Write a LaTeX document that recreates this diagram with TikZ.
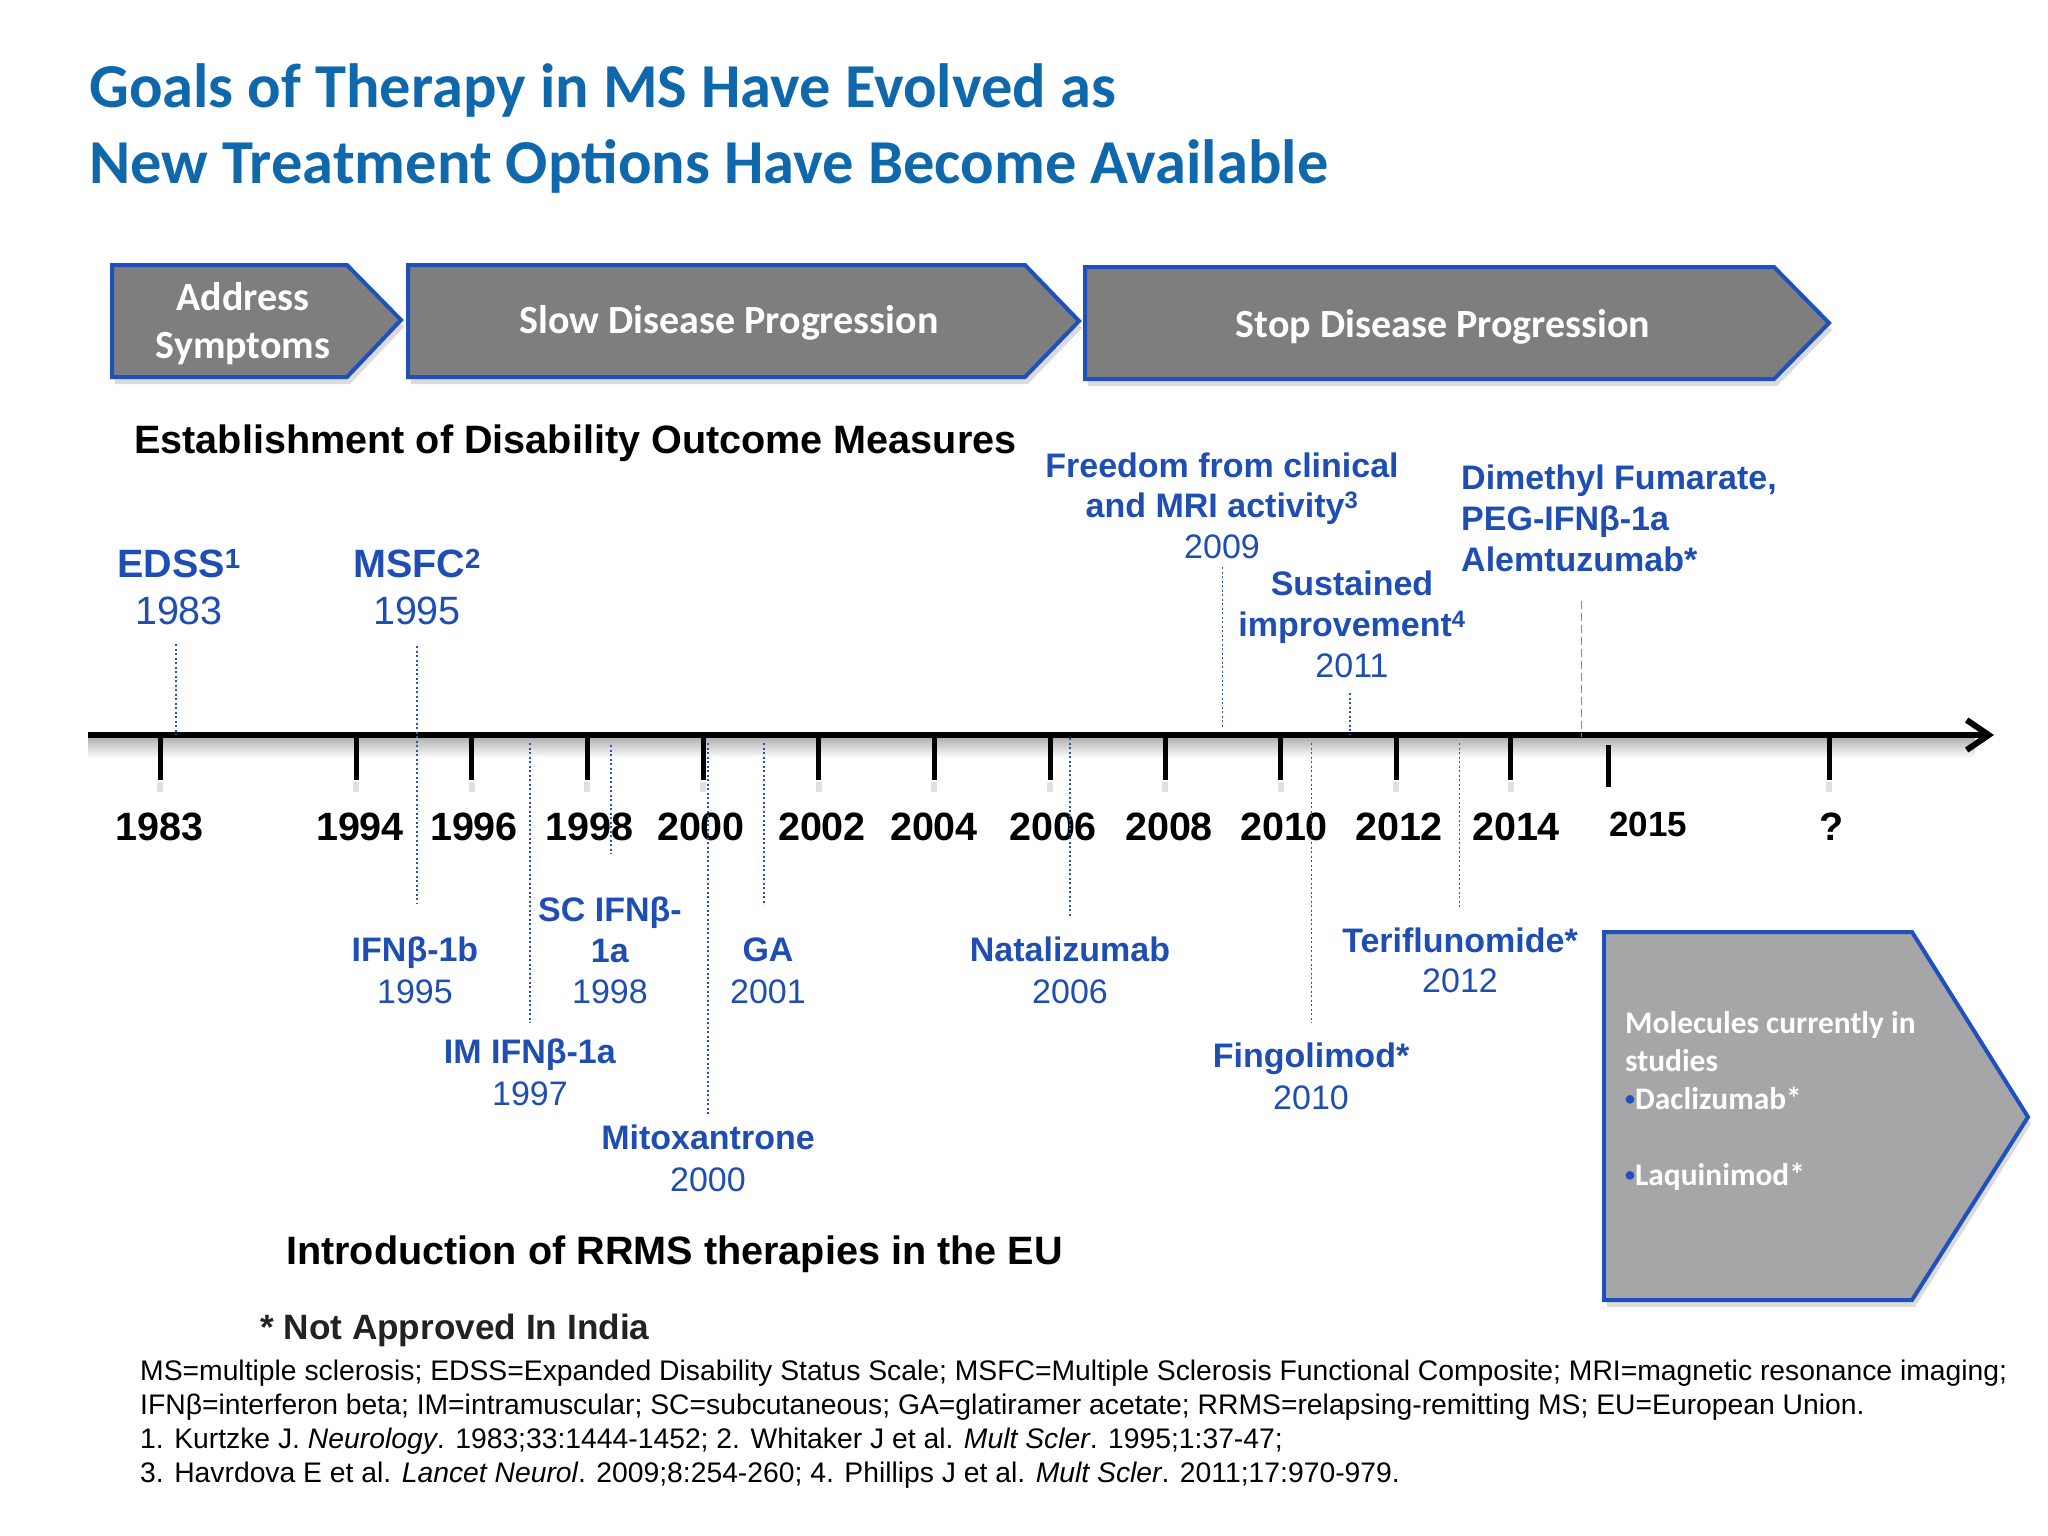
\documentclass[tikz,border=0pt]{standalone}
\usepackage{fontspec}
\setmainfont{Liberation Sans}
\newfontfamily\calib{Carlito}
\usetikzlibrary{arrows.meta,shadows}
\definecolor{titleblue}{RGB}{16,104,172}
\definecolor{lblue}{RGB}{30,78,180}
\definecolor{bord}{RGB}{30,80,190}
\definecolor{dgray}{RGB}{127,126,126}
\definecolor{lgray}{RGB}{166,166,168}
\definecolor{tealc}{RGB}{60,170,165}
\definecolor{dotblue}{RGB}{40,85,175}
\definecolor{nearblack}{RGB}{34,34,34}
\newcommand{\myfs}[2]{\fontsize{#1}{#2}\selectfont}
\newcommand{\mybullet}{{\color{bord}\raisebox{4pt}{\fontsize{20}{20}\selectfont •}}}
\begin{document}
\begin{tikzpicture}[x=1pt,y=-1pt,
 chev/.style={fill=dgray, draw=bord, line width=4pt, line join=miter, drop shadow={opacity=0.28, shadow xshift=3pt, shadow yshift=-7pt}},
 chevtxt/.style={text=white, font=\calib\bfseries\myfs{40}{48}, align=center, inner sep=0pt},
 lab/.style={text=lblue, font=\myfs{34}{42}, align=center, inner sep=0pt},
 biglab/.style={text=lblue, font=\myfs{39.5}{47}, align=center, inner sep=0pt},
 yearlab/.style={font=\bfseries\myfs{39.5}{44}, inner sep=0pt},
 axtick/.style={line width=5pt},
 tickshadow/.style={line width=6pt, draw=black!12},
 dotline/.style={draw=dotblue, line width=1.6pt, dash pattern=on 2pt off 2.5pt},
 tealline/.style={draw=tealc, line width=1.6pt, dash pattern=on 8pt off 4pt},
 head/.style={font=\bfseries\myfs{39.6}{44}, inner sep=0pt, anchor=west},
]
% canvas
\fill[white] (0,0) rectangle (2048,1536);
\useasboundingbox (0,0) rectangle (2048,1536);

% title
\node[anchor=base west, inner sep=0pt, text=titleblue, font=\calib\bfseries\myfs{62.5}{70}] (title1) at (89,108) {Goals of Therapy in MS Have Evolved as};
\node[anchor=base west, inner sep=0pt, text=titleblue, font=\calib\bfseries\myfs{62.5}{70}] (title2) at (89,183) {New Treatment Options Have Become Available};

% chevrons
\filldraw[chev] (112,265) -- (347,265) -- (401,320) -- (347,377) -- (112,377) -- cycle;
\filldraw[chev] (408,265) -- (1025,265) -- (1079,321) -- (1025,377) -- (408,377) -- cycle;
\filldraw[chev] (1085,267) -- (1774,267) -- (1829,323) -- (1774,379) -- (1085,379) -- cycle;
\node[chevtxt] (c1) at (243,324) {Address\\Symptoms};
\node[chevtxt] (c2) at (729,323) {Slow Disease Progression};
\node[chevtxt] (c3) at (1443,327) {Stop Disease Progression};

% headings
\node[head] (h1) at (134,443) {Establishment of Disability Outcome Measures};
\node[head] (h2) at (286,1254) {Introduction of RRMS therapies in the EU};
\node[head, text=nearblack, font=\bfseries\myfs{35.2}{40}] (h3) at (260,1330) {* Not Approved In India};

% axis shadow and axis
\shade[top color=black!30, bottom color=white] (88,738) rectangle (1975,758);
\coordinate (ax0) at (88,735);
\coordinate (ax1) at (1994,735);
\draw[line width=6pt, -{Straight Barb[length=22pt, width=30pt, line width=6pt]}] (ax0) -- (ax1);

% ticks and year labels
\foreach \tx/\lx/\lab/\nm in {160/159.5/1983/a, 356/360/1994/b, 471.5/474/1996/c, 587/589.7/1998/d, 703/701/2000/e, 818.5/822/2002/f, 934/934/2004/g, 1050/1053/2006/h, 1165/1169/2008/i, 1280.5/1284/2010/j, 1396/1399/2012/k, 1510.7/1516/2014/l, 1829/1832/?/n}{
  \coordinate (ts\nm) at (\tx,735);
  \coordinate (te\nm) at (\tx,780);
  \draw[tickshadow] (\tx,782) -- (\tx,792);
  \draw[axtick] (ts\nm) -- (te\nm);
  \node[yearlab] (yl\nm) at (\lx,827) {\lab};
}
\coordinate (tsm) at (1608.7,745);
\coordinate (tem) at (1608.7,787);
\draw[axtick] (tsm) -- (tem);
\node[font=\bfseries\myfs{35}{40}, inner sep=0pt] (ylm) at (1648,824) {2015};

% labels above axis
\node[biglab] (edss) at (179,587) {\textbf{EDSS\textsuperscript{1}}\\1983};
\node[biglab] (msfc) at (417,587) {\textbf{MSFC\textsuperscript{2}}\\1995};
\node[lab, font=\myfs{34}{40.5}] (free) at (1222,505.5) {\textbf{Freedom from clinical}\\\textbf{and MRI activity\textsuperscript{3}}\\2009};
\node[lab, font=\myfs{34}{41}] (sust) at (1352,624) {\textbf{Sustained}\\\textbf{improvement\textsuperscript{4}}\\2011};
\node[lab, font=\bfseries\myfs{34}{41}, align=left, anchor=west] (dmf) at (1461,518) {Dimethyl Fumarate,\\PEG-IFNβ-1a\\Alemtuzumab*};

% labels below axis
\node[lab] (ifnb) at (415,970) {\textbf{IFNβ-1b}\\1995};
\node[lab, font=\myfs{34}{41}] (sc) at (610,950) {\textbf{SC IFNβ-}\\\textbf{1a}\\1998};
\node[lab] (im) at (530,1072) {\textbf{IM IFNβ-1a}\\1997};
\node[lab] (ga) at (768,971) {\textbf{GA}\\2001};
\node[lab] (mito) at (708,1158) {\textbf{Mitoxantrone}\\2000};
\node[lab] (nata) at (1070,970) {\textbf{Natalizumab}\\2006};
\node[lab] (fing) at (1311,1076) {\textbf{Fingolimod*}\\2010};
\node[lab, font=\myfs{34}{40}] (teri) at (1460,960) {\textbf{Teriflunomide*}\\2012};

% connectors (dotted)
\coordinate (pEa) at (176,644);   \coordinate (pEb) at (176,735);
\coordinate (pMa) at (417,646);   \coordinate (pMb) at (417,903);
\coordinate (pFa) at (1222.6,567); \coordinate (pFb) at (1222.6,728);
\coordinate (pSa) at (1350,693);  \coordinate (pSb) at (1350,735);
\coordinate (pDa) at (1581.6,601); \coordinate (pDb) at (1581.6,737);
\coordinate (pIa) at (530,743);   \coordinate (pIb) at (530,1023);
\coordinate (pCa) at (611,745);   \coordinate (pCb) at (611,854);
\coordinate (pXa) at (708,743);   \coordinate (pXb) at (708,1114);
\coordinate (pGa) at (764,743);   \coordinate (pGb) at (764,905);
\coordinate (pNa) at (1070,738);  \coordinate (pNb) at (1070,917);
\coordinate (pLa) at (1311.6,743); \coordinate (pLb) at (1311.6,1023);
\coordinate (pTa) at (1459.5,743); \coordinate (pTb) at (1459.5,907);
\draw[dotline] (pEa) -- (pEb);
\draw[dotline] (pMa) -- (pMb);
\draw[dotline] (pFa) -- (pFb);
\draw[dotline] (pSa) -- (pSb);
\draw[tealline] (pDa) -- (pDb);
\draw[dotline] (pIa) -- (pIb);
\draw[dotline] (pCa) -- (pCb);
\draw[dotline] (pXa) -- (pXb);
\draw[dotline] (pGa) -- (pGb);
\draw[dotline] (pNa) -- (pNb);
\draw[dotline] (pLa) -- (pLb);
\draw[dotline] (pTa) -- (pTb);

% molecules box
\filldraw[chev, fill=lgray] (1604,932) -- (1912,932) -- (2028,1117) -- (1912,1300) -- (1604,1300) -- cycle;
\node[anchor=north west, inner sep=0pt, align=left, text=white, font=\calib\bfseries\myfs{31.4}{38}] (mol) at (1625,1011) {Molecules currently in\\studies\\\mybullet Daclizumab*\\[38pt]\mybullet Laquinimod*};

% footnotes
\node[anchor=west, inner sep=0pt, align=left, font=\myfs{28.3}{34}] (foot) at (140,1424) {MS=multiple sclerosis; EDSS=Expanded Disability Status Scale; MSFC=Multiple Sclerosis Functional Composite; MRI=magnetic resonance imaging;\\IFNβ=interferon beta; IM=intramuscular; SC=subcutaneous; GA=glatiramer acetate; RRMS=relapsing-remitting MS; EU=European Union.\\1. Kurtzke J. \textit{Neurology}. 1983;33:1444-1452; 2. Whitaker J et al. \textit{Mult Scler}. 1995;1:37-47;\\3. Havrdova E et al. \textit{Lancet Neurol}. 2009;8:254-260; 4. Phillips J et al. \textit{Mult Scler}. 2011;17:970-979.};
\end{tikzpicture}
\end{document}
